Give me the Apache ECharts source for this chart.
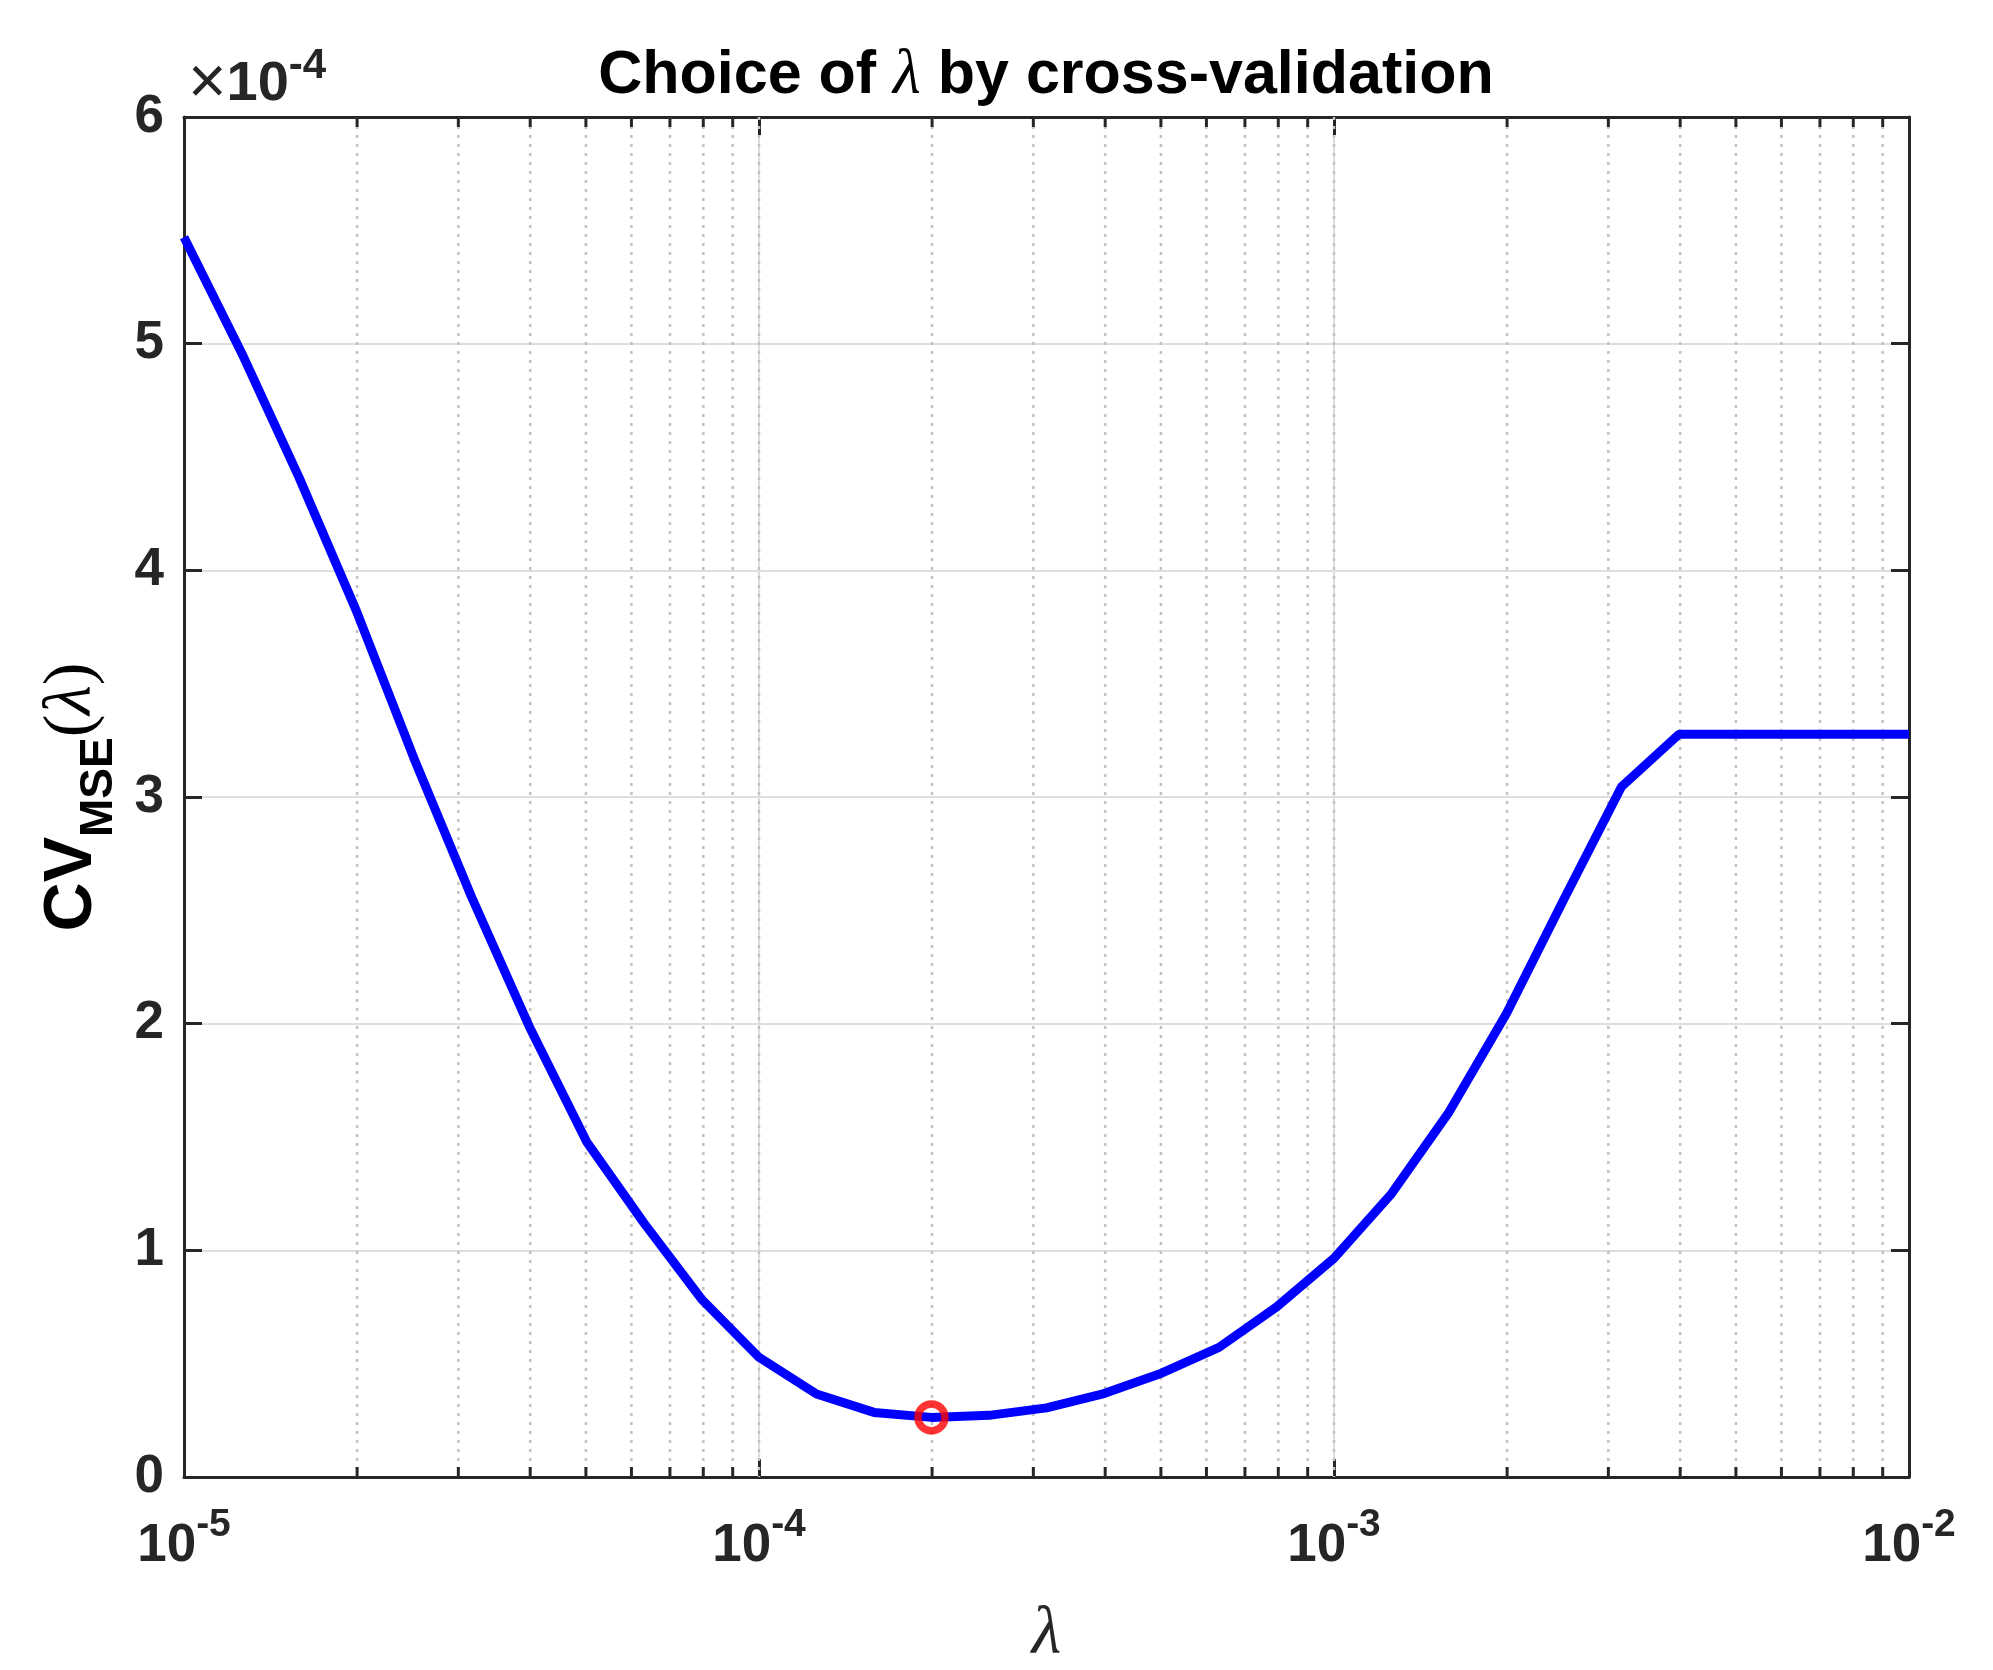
<!DOCTYPE html>
<html>
<head>
<meta charset="utf-8">
<script src="https://cdn.jsdelivr.net/npm/echarts@6/dist/echarts.min.js"></script>
<style>
html,body{margin:0;padding:0;background:#ffffff;}
#chart{width:1993px;height:1670px;}
</style>
</head>
<body>
<div id="chart"></div>
<script>
// ---- data ----
const lambdaValues = [1.000e-5, 1.259e-5, 1.585e-5, 1.995e-5, 2.512e-5, 3.162e-5, 3.981e-5, 5.012e-5, 6.310e-5, 7.943e-5,
                      1.000e-4, 1.259e-4, 1.585e-4, 1.995e-4, 2.512e-4, 3.162e-4, 3.981e-4, 5.012e-4, 6.310e-4, 7.943e-4,
                      1.000e-3, 1.259e-3, 1.585e-3, 1.995e-3, 2.512e-3, 3.162e-3, 3.981e-3, 5.012e-3, 6.310e-3, 7.943e-3,
                      1.000e-2];
const cvMse = [5.47e-4, 4.96e-4, 4.41e-4, 3.82e-4, 3.17e-4, 2.56e-4, 1.99e-4, 1.48e-4, 1.12e-4, 0.785e-4,
               0.528e-4, 0.366e-4, 0.285e-4, 0.263e-4, 0.272e-4, 0.305e-4, 0.368e-4, 0.458e-4, 0.572e-4, 0.750e-4,
               0.965e-4, 1.25e-4, 1.61e-4, 2.045e-4, 2.55e-4, 3.045e-4, 3.277e-4, 3.277e-4, 3.277e-4, 3.277e-4,
               3.277e-4];
const bestLambda = [1.995e-4];
const bestCv = [0.263e-4];
const minorGridX = [2e-5, 3e-5, 4e-5, 5e-5, 6e-5, 7e-5, 8e-5, 9e-5, 1e-4,
                    2e-4, 3e-4, 4e-4, 5e-4, 6e-4, 7e-4, 8e-4, 9e-4, 1e-3,
                    2e-3, 3e-3, 4e-3, 5e-3, 6e-3, 7e-3, 8e-3, 9e-3];
const decadeX = [1e-4, 1e-3];
const yTickLabels = ['0', '1', '2', '3', '4', '5', '6'];
const xMin = 1e-5, xMax = 1e-2, yMin = 0, yMax = 6e-4, yStep = 1e-4;

const SANS = '"Liberation Sans", Arial, Helvetica, sans-serif';
const SERIF = '"Liberation Serif", "Times New Roman", serif';
const AX = '#262626';

const axisLineStyle = {show: true, onZero: false, lineStyle: {color: AX, width: 3}};
const axisTickStyle = {show: true, inside: true, length: 18, lineStyle: {color: AX, width: 3}};
const supRich = {
  b: {fontFamily: SANS, fontWeight: 'bold', fontSize: 53, color: AX, lineHeight: 80},
  s: {fontFamily: SANS, fontWeight: 'bold', fontSize: 39, color: AX, lineHeight: 37, verticalAlign: 'top'}
};

const chart = echarts.init(document.getElementById('chart'), null, {renderer: 'canvas'});
chart.setOption({
  animation: false,
  backgroundColor: '#ffffff',
  grid: {left: 184, right: 84, top: 117, bottom: 193, containLabel: false, outerBoundsMode: 'none'},
  graphic: [
    {
      type: 'text', x: 1046, y: 76, silent: true,
      style: {
        text: '{t|Choice of }{l|λ}{t| by cross-validation}',
        align: 'center', verticalAlign: 'middle', textAlign: 'center', textVerticalAlign: 'middle',
        rich: {
          t: {fontFamily: SANS, fontWeight: 'bold', fontSize: 61, fill: '#000000', color: '#000000'},
          l: {fontFamily: SERIF, fontStyle: 'italic', fontWeight: 'normal', fontSize: 64, fill: '#000000', color: '#000000'}
        }
      }
    },
    {
      type: 'text', x: 188, y: 85, silent: true,
      style: {
        text: '{x|×}{b|10}{s|-4}',
        align: 'left', verticalAlign: 'middle', textAlign: 'left', textVerticalAlign: 'middle',
        rich: {
          b: {fontFamily: SANS, fontWeight: 'bold', fontSize: 56, fill: AX, lineHeight: 80},
          s: {fontFamily: SANS, fontWeight: 'bold', fontSize: 42, fill: AX, lineHeight: 37, verticalAlign: 'top'},
          x: {fontFamily: SANS, fontWeight: 'normal', fontSize: 66, fill: AX, lineHeight: 80}
        }
      }
    }
  ],
  xAxis: [
    {
      type: 'log', logBase: 10, min: xMin, max: xMax, position: 'bottom',
      axisLine: axisLineStyle, axisTick: axisTickStyle,
      minorTick: {show: false}, minorSplitLine: {show: false},
      splitLine: {show: true, lineStyle: {color: '#dedede', width: 2}},
      axisLabel: {
        margin: 29,
        formatter: function (v) { return '{b|10}{s|' + Math.round(Math.log10(v)) + '}'; },
        rich: supRich
      },
      name: 'λ', nameLocation: 'middle', nameGap: 124,
      nameTextStyle: {fontFamily: SERIF, fontStyle: 'italic', fontWeight: 'normal', fontSize: 68, color: AX}
    },
    {
      type: 'log', logBase: 10, min: xMin, max: xMax, position: 'top',
      axisLine: axisLineStyle, axisTick: axisTickStyle,
      axisLabel: {show: false}, splitLine: {show: false}
    }
  ],
  yAxis: [
    {
      type: 'value', min: yMin, max: yMax, interval: yStep, position: 'left',
      axisLine: axisLineStyle, axisTick: axisTickStyle,
      splitLine: {show: true, lineStyle: {color: '#dedede', width: 2}},
      axisLabel: {
        margin: 20, fontFamily: SANS, fontWeight: 'bold', fontSize: 53, color: AX,
        formatter: function (v) { return yTickLabels[Math.round(v / yStep)]; }
      },
      name: '{a|CV}{s|MSE}{p|(}{l|λ}{p|)}', nameLocation: 'middle', nameRotate: 90, nameGap: 62,
      nameTextStyle: {
        rich: {
          a: {fontFamily: SANS, fontWeight: 'bold', fontSize: 68, color: '#000000', lineHeight: 100},
          s: {fontFamily: SANS, fontWeight: 'bold', fontSize: 46, color: '#000000', lineHeight: 38, verticalAlign: 'bottom'},
          p: {fontFamily: SERIF, fontWeight: 'normal', fontSize: 68, color: '#000000', lineHeight: 100},
          l: {fontFamily: SERIF, fontStyle: 'italic', fontWeight: 'normal', fontSize: 68, color: '#000000', lineHeight: 100}
        }
      }
    },
    {
      type: 'value', min: yMin, max: yMax, interval: yStep, position: 'right',
      axisLine: axisLineStyle, axisTick: axisTickStyle,
      axisLabel: {show: false}, splitLine: {show: false}
    }
  ],
  series: [
    {
      type: 'custom', xAxisIndex: 0, yAxisIndex: 0, silent: true, z: 1, clip: false,
      data: minorGridX.map(function (v) { return [v, yMin]; }),
      renderItem: function (params, api) {
        const x = api.value(0);
        const b = api.coord([x, yMin]);
        const t = api.coord([x, yMax]);
        const isDecade = decadeX.some(function (d) { return Math.abs(d - x) / d < 1e-6; });
        const children = [{
          type: 'line', silent: true,
          shape: {x1: b[0], y1: t[1], x2: b[0], y2: b[1]},
          style: {stroke: '#c2c2c2', lineWidth: 2.5, lineDash: [3, 6]}
        }];
        if (!isDecade) {
          children.push({type: 'line', silent: true, shape: {x1: b[0], y1: b[1], x2: b[0], y2: b[1] - 10}, style: {stroke: AX, lineWidth: 3}});
          children.push({type: 'line', silent: true, shape: {x1: t[0], y1: t[1], x2: t[0], y2: t[1] + 10}, style: {stroke: AX, lineWidth: 3}});
        }
        return {type: 'group', children: children};
      }
    },
    {
      type: 'line', xAxisIndex: 0, yAxisIndex: 0, z: 3,
      data: lambdaValues.map(function (x, i) { return [x, cvMse[i]]; }),
      symbol: 'none', showSymbol: false, smooth: false,
      lineStyle: {color: '#0000ff', width: 9}
    },
    {
      type: 'scatter', xAxisIndex: 0, yAxisIndex: 0, z: 4,
      data: bestLambda.map(function (x, i) { return [x, bestCv[i]]; }),
      symbol: 'circle', symbolSize: 27,
      itemStyle: {color: 'rgba(0,0,0,0)', borderColor: '#ff0000', borderWidth: 7.5}
    }
  ]
});
</script>
</body>
</html>
